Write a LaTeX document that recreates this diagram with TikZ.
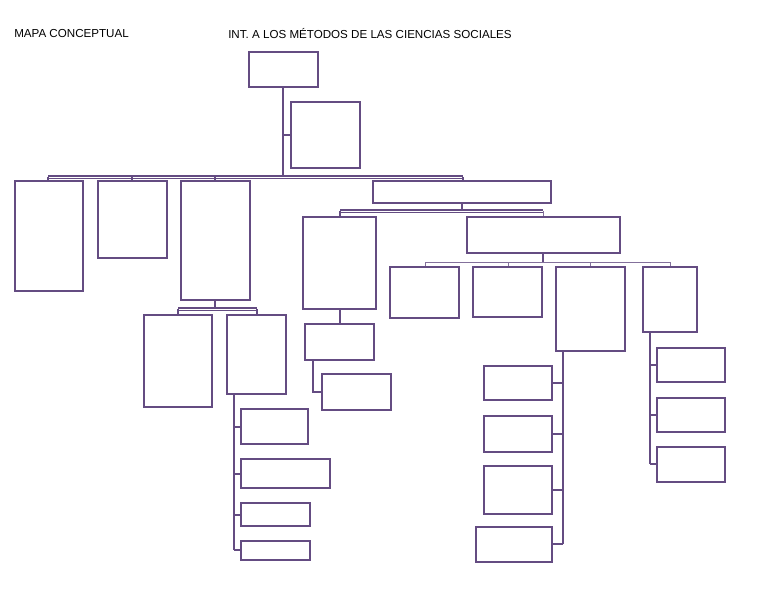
\documentclass[tikz,border=0pt]{standalone}
\usepackage{fontspec}
\setmainfont{Liberation Sans}
\begin{document}
\begin{tikzpicture}[x=0.75pt,y=-0.75pt,
  bx/.style={draw=pur,line width=1.3pt,fill=white},
  ln/.style={draw=pur,line width=1.3pt},
  hl/.style={draw=pur,line width=1.1pt,double=white,double distance=0.6pt},
  tl/.style={draw=pur!80,line width=0.6pt},
  lab/.style={anchor=west,font=\fontsize{8.7}{10}\selectfont,inner sep=0}]
\definecolor{pur}{HTML}{644C82}
\useasboundingbox (0,0) rectangle (768,594);
\node[lab] (t1) at (14,33.5) {MAPA CONCEPTUAL};
\node[lab] (t2) at (228,33.5) {INT. A LOS MÉTODOS DE LAS CIENCIAS SOCIALES};
\coordinate (c177a) at (48,177); \coordinate (c177b) at (463,177);
\draw[ln] (283,87) -- (283,177);
\draw[ln] (283,135) -- (291,135);
\draw[hl] (c177a) -- (c177b);
\foreach \x/\y in {48/181,132/181,215/181,463/181}{\draw[ln] (\x,177) -- (\x,\y);}
\draw[ln] (462,203) -- (462,211);
\draw[hl] (340,211) -- (543,211);
\draw[ln] (340,211) -- (340,217); \draw[tl] (543,211) -- (543,217);
\draw[ln] (543,253) -- (543,262);
\draw[tl] (425,262) -- (670,262);
\foreach \x in {425,508,590,670}{\draw[tl] (\x,262) -- (\x,267);}
\draw[ln] (215,300) -- (215,309);
\draw[hl] (178,309) -- (257,309);
\draw[ln] (178,309) -- (178,315); \draw[ln] (257,309) -- (257,315);
\draw[ln] (234,394) -- (234,550);
\foreach \y in {427,474,515,550}{\draw[ln] (234,\y) -- (241,\y);}
\draw[ln] (340,309) -- (340,324);
\draw[ln] (313,360) -- (313,392) -- (322,392);
\draw[ln] (563,351) -- (563,544);
\foreach \y in {383,434,490,544}{\draw[ln] (563,\y) -- (552,\y);}
\draw[ln] (650,332) -- (650,464);
\foreach \y in {365,415,464}{\draw[ln] (650,\y) -- (657,\y);}
\foreach \n/\a/\b/\c/\d in {top/249/52/318/87, b2/291/102/360/168,
  A/15/181/83/291, B/98/181/167/258, C/181/181/250/300, D/373/181/551/203,
  E/303/217/376/309, F/467/217/620/253,
  G1/390/267/459/318, G2/473/267/542/317, G3/556/267/625/351, G4/643/267/697/332,
  H1/144/315/212/407, H2/227/315/286/394,
  I1/241/409/308/444, I2/241/459/330/488, I3/241/503/310/526, I4/241/541/310/560,
  J1/305/324/374/360, K/322/374/391/410,
  L1/484/366/552/400, L2/484/416/552/452, L3/484/466/552/514, L4/476/527/552/562,
  M1/657/348/725/382, M2/657/398/725/432, M3/657/447/725/482}
  {\draw[bx] (\a,\b) rectangle (\c,\d); \coordinate (\n) at (\a,\b);}
\end{tikzpicture}
\end{document}
